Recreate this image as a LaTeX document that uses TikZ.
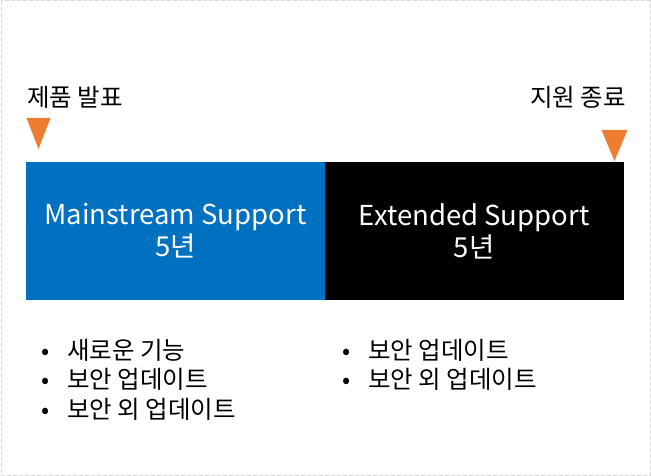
\documentclass[tikz,border=0pt]{standalone}
\usepackage{fontspec}
\setmainfont{Noto Sans CJK KR}
\usetikzlibrary{positioning}

\definecolor{msblue}{HTML}{0070C0}
\definecolor{eolorange}{HTML}{ED7D31}
\definecolor{framegray}{HTML}{D9D9D9}

\tikzset{
		phase/.style   = {shape=rectangle, inner sep=0pt, outer sep=0pt,
				minimum width=299pt, minimum height=138pt,
				align=center, text=white,
				font=\fontsize{27.5}{32}\selectfont},
		mainphase/.style = {phase, fill=msblue},
		extphase/.style  = {phase, fill=black},
		milestone/.style = {inner sep=0pt, font=\fontsize{24.5}{28}\selectfont},
		bullets/.style   = {inner sep=0pt, align=left, anchor=north west,
				font=\fontsize{24.5}{29.5}\selectfont},
		marker/.style    = {fill=eolorange}
	}

\newcommand{\blt}{\makebox[26pt][l]{\fontsize{24}{24}\selectfont •}}

\begin{document}
\begin{tikzpicture}[x=1pt, y=-1pt]
				\useasboundingbox (0,0) rectangle (651,476);
				\draw[framegray, line width=1pt, dash pattern=on 4pt off 2pt] (1,1) rectangle (650,475);
				% support phases
				\node [mainphase, anchor=north west] (main) at (26,162) {Mainstream Support\\5년};
				\node [extphase, right=-0.3pt of main] (ext) {Extended Support\\5년};
				% milestones
				\node [milestone, anchor=base west] (release) at (27,107) {제품 발표};
				\node [milestone, anchor=base east] (eol) at (626,107) {지원 종료};
				\coordinate (releasetip) at (38.5,149);
				\coordinate (eoltip) at (614.5,161);
				\fill [marker] (releasetip) -- ++(-12,-31) -- ++(24,0) -- cycle;
				\fill [marker] (eoltip) -- ++(-13,-31) -- ++(26,0) -- cycle;
				% what each phase brings
				\node [bullets] (mainlist) at (41,339) {\blt 새로운 기능\\\blt 보안 업데이트\\\blt 보안 외 업데이트};
				\node [bullets] (extlist) at (342,339) {\blt 보안 업데이트\\\blt 보안 외 업데이트};
			\end{tikzpicture}
\end{document}
